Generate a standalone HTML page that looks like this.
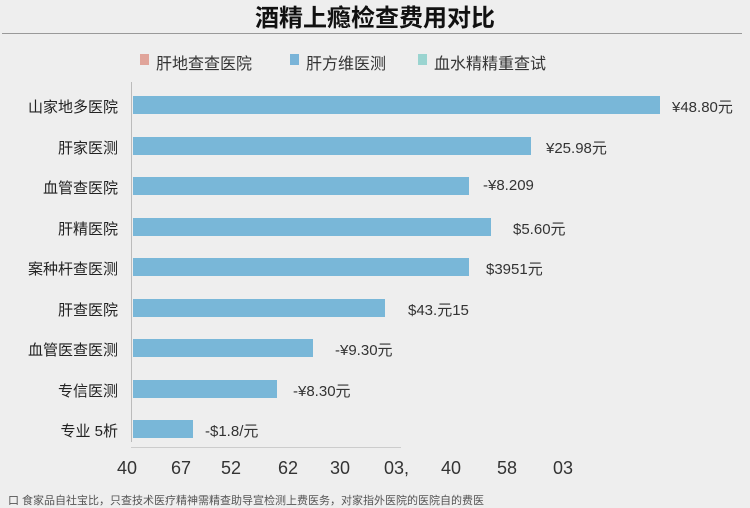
<!DOCTYPE html>
<html><head><meta charset="utf-8"><style>
body{margin:0;width:750px;height:500px;background:#eeeeee;font-family:"Liberation Sans","Noto Sans CJK SC",sans-serif;position:relative;overflow:hidden;color:#222}
.a{position:absolute;white-space:nowrap}
.bar{position:absolute;left:133px;height:18px;background:#79b7d8}
.lab{position:absolute;right:632px;font-size:15px;color:#222;text-align:right}
.val{position:absolute;font-size:15px;color:#333}
.t{position:absolute;top:458px;font-size:18px;color:#333}
</style></head><body>
<div class="a" style="left:0;width:750px;top:-2px;text-align:center;font-size:24px;font-weight:bold;color:#111">酒精上瘾检查费用对比</div>
<div class="a" style="left:2px;width:740px;top:33px;height:1px;background:#999"></div>
<div class="a" style="left:140px;top:54px;width:9px;height:11px;background:#e0a49a"></div>
<div class="a" style="left:156px;top:50px;font-size:16px;color:#333">肝地查查医院</div>
<div class="a" style="left:290px;top:54px;width:9px;height:11px;background:#7ab4d8"></div>
<div class="a" style="left:306px;top:50px;font-size:16px;color:#333">肝方维医测</div>
<div class="a" style="left:418px;top:54px;width:9px;height:11px;background:#9ad4d0"></div>
<div class="a" style="left:434px;top:50px;font-size:16px;color:#333">血水精精重查试</div>
<div class="a" style="left:131px;top:82px;width:1px;height:360px;background:#bbb"></div>
<div class="a" style="left:131px;top:447px;width:270px;height:1px;background:#ccc"></div>

<div class="bar" style="top:96px;width:527px"></div><div class="lab" style="top:96px">山家地多医院</div><div class="val" style="left:672px;top:96px">¥48.80元</div>
<div class="bar" style="top:137px;width:398px"></div><div class="lab" style="top:137px">肝家医测</div><div class="val" style="left:546px;top:137px">¥25.98元</div>
<div class="bar" style="top:177px;width:336px"></div><div class="lab" style="top:177px">血管查医院</div><div class="val" style="left:483px;top:177px">-¥8.209</div>
<div class="bar" style="top:218px;width:358px"></div><div class="lab" style="top:218px">肝精医院</div><div class="val" style="left:513px;top:218px">$5.60元</div>
<div class="bar" style="top:258px;width:336px"></div><div class="lab" style="top:258px">案种杆查医测</div><div class="val" style="left:486px;top:258px">$3951元</div>
<div class="bar" style="top:299px;width:252px"></div><div class="lab" style="top:299px">肝查医院</div><div class="val" style="left:408px;top:299px">$43.元15</div>
<div class="bar" style="top:339px;width:180px"></div><div class="lab" style="top:339px">血管医查医测</div><div class="val" style="left:335px;top:339px">-¥9.30元</div>
<div class="bar" style="top:380px;width:144px"></div><div class="lab" style="top:380px">专信医测</div><div class="val" style="left:293px;top:380px">-¥8.30元</div>
<div class="bar" style="top:420px;width:60px"></div><div class="lab" style="top:420px">专业 5析</div><div class="val" style="left:205px;top:420px">-$1.8/元</div>

<div class="t" style="left:117px">40</div><div class="t" style="left:171px">67</div><div class="t" style="left:221px">52</div><div class="t" style="left:278px">62</div><div class="t" style="left:330px">30</div><div class="t" style="left:384px">03,</div><div class="t" style="left:441px">40</div><div class="t" style="left:497px">58</div><div class="t" style="left:553px">03</div>
<div class="a" style="left:8px;top:492px;font-size:11px;color:#555">口 食家品自社宝比，只查技术医疗精神需精查助导宣检测上费医务，对家指外医院的医院自的费医</div>
</body></html>
